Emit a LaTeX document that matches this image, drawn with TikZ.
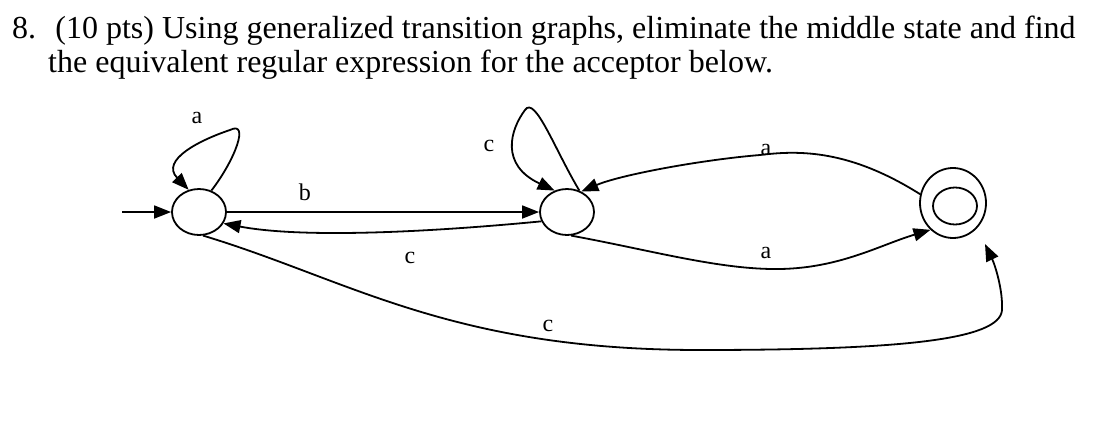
\documentclass[tikz,border=0pt]{standalone}
\usepackage{fontspec}
\setmainfont{Liberation Serif}
\usetikzlibrary{arrows.meta,shapes.geometric}
\begin{document}
\begin{tikzpicture}[x=1pt,y=-1pt,
  st/.style={draw,line width=1.8pt,ellipse,minimum width=54pt,minimum height=46pt,inner sep=0pt},
  tr/.style={line width=1.8pt,-{Triangle[length=17pt,width=13pt]}},
  lab/.style={font=\fontsize{24}{26}\selectfont,inner sep=0pt},
  ttl/.style={font=\fontsize{32}{34}\selectfont,anchor=base west,inner sep=0pt}]
\useasboundingbox (0,0) rectangle (1112,426);
\node[ttl] (t1) at (12,38) {8.\hspace{0.6em}(10 pts) Using generalized transition graphs, eliminate the middle state and find};
\node[ttl] (t2) at (48,72) {the equivalent regular expression for the acceptor below.};
\node[st] (q0) at (199,212) {};
\node[st] (q1) at (567,212) {};
\node[draw,line width=1.8pt,ellipse,minimum width=66pt,minimum height=70pt,inner sep=0pt] (q2) at (953,203) {};
\node[draw,line width=1.8pt,ellipse,minimum width=44pt,minimum height=37pt,inner sep=0pt] (q2i) at (955,206) {};
\coordinate (s) at (122,212);
\coordinate (e3) at (985,244);
\draw[tr] (s) -- (q0.west);
\draw[tr] (q0.60) .. controls (235,160) and (250,120) .. (230,130) .. controls (200,140) and (160,160) .. (q0.115);
\node[lab] (la) at (197,118) {a};
\draw[tr] (q0.east) -- node[lab,above=10pt,pos=0.25] (lb) {b} (q1.west);
\draw[tr] (q1.200) .. controls (420,233) and (300,238) .. (q0.-25);
\node[lab] (lc1) at (410,258) {c};
\draw[tr] (q1.60) .. controls (555,150) and (535,95) .. (525,110) .. controls (510,130) and (500,165) .. (q1.120);
\node[lab] (lc2) at (489,146) {c};
\draw[tr] (q2.165) .. controls (850,150) and (800,150) .. (760,155) .. controls (700,160) and (620,175) .. (q1.55);
\node[lab] (la2) at (766,150) {a};
\draw[tr] (q1.-80) .. controls (650,250) and (720,270) .. (780,269) .. controls (840,268) and (880,245) .. (q2.-130);
\node[lab] (la3) at (766,253) {a};
\draw[tr] (q0.-80) .. controls (350,280) and (450,350) .. (700,350) .. controls (900,350) and (1000,340) .. (1002,310) .. controls (1003,290) and (995,265) .. (e3);
\node[lab] (lc3) at (548,326) {c};
\end{tikzpicture}
\end{document}
